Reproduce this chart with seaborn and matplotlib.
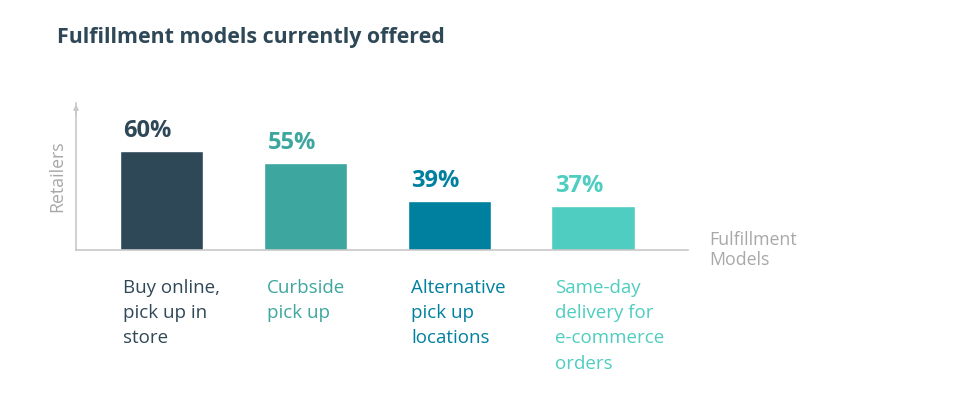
import matplotlib
matplotlib.use("Agg")
import matplotlib.pyplot as plt
import matplotlib.transforms as mtransforms
import seaborn as sns
import pandas as pd

categories = ["Buy online,\npick up in\nstore", "Curbside\npick up",
              "Alternative\npick up\nlocations", "Same-day\ndelivery for\ne-commerce\norders"]
values = [60, 55, 39, 37]
value_labels = ["60%", "55%", "39%", "37%"]
colors = ["#2F4858", "#3DA69E", "#00809F", "#4ECDC0"]

sns.set_theme(style="white")
plt.rcParams['font.family'] = ['Open Sans', 'DejaVu Sans']

fig = plt.figure(figsize=(9.6, 3.95), dpi=100)
ax = fig.add_axes([0.0792, 0.367, 0.6375, 0.372])

df = pd.DataFrame({"cat": categories, "val": values})
sns.barplot(data=df, x="cat", y="val", hue="cat", palette=colors, width=0.58,
            legend=False, ax=ax, saturation=1)

ax.set_ylim(18.5, 80)
ax.set_xlim(-0.595, 3.66)
for s in ["top", "right"]:
    ax.spines[s].set_visible(False)
for s in ["left", "bottom"]:
    ax.spines[s].set_color("#C8C8C8")
    ax.spines[s].set_linewidth(1.2)
ax.set_xticks([])
ax.set_yticks([])
ax.set_xlabel("")
ax.set_ylabel("Retailers", color="#A8A8A8", fontsize=12.8, labelpad=7)

ax.annotate("", xy=(0, 1.01), xycoords="axes fraction", xytext=(0, 0.9),
            arrowprops=dict(arrowstyle="-|>", color="#C8C8C8", lw=1.2, mutation_scale=7))

blend = mtransforms.blended_transform_factory(ax.transData, ax.transAxes)
for i, (v, lab, c, cat) in enumerate(zip(values, value_labels, colors, categories)):
    ax.text(i - 0.265, v + 8.5, lab, color=c, fontsize=17, fontweight="bold",
            ha="left", va="center")
    ax.text(i - 0.265, -0.195, cat, color=c, fontsize=13.5, ha="left", va="top",
            transform=blend, linespacing=1.52)

ax.text(1.035, 0.0, "Fulfillment\nModels", transform=ax.transAxes, color="#A8A8A8",
        fontsize=12.8, ha="left", va="center", linespacing=1.1)

fig.text(0.059, 0.905, "Fulfillment models currently offered", color="#2F4858",
         fontsize=15.4, fontweight="bold", ha="left", va="center")

fig.savefig("out.png", dpi=100)
